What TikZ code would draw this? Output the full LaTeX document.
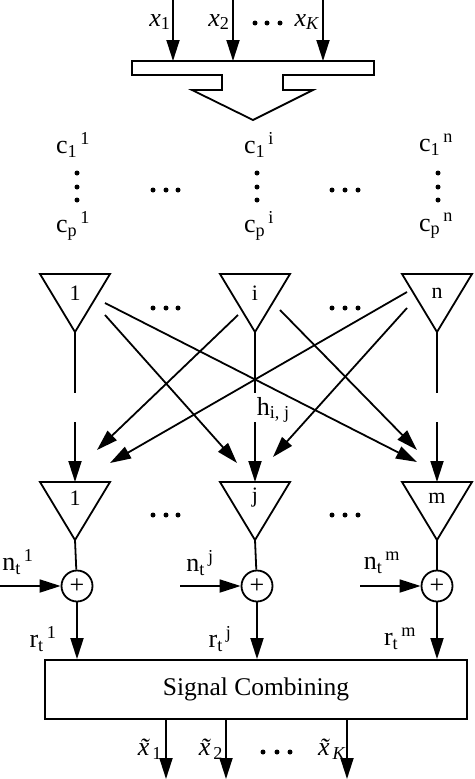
\documentclass[tikz,border=0pt]{standalone}
\usepackage{fontspec}
\setmainfont{Liberation Serif}
\usetikzlibrary{arrows.meta}
\newcommand\subsup[3]{#1\textsubscript{#2}\textsuperscript{\,#3}}
\newcommand\xt[1]{\textit{x^^^^0303}\kern-0.28em\textsubscript{#1}}

\begin{document}
\begin{tikzpicture}[x=1pt, y=-1pt, line width=1.8pt,
                    >={Triangle[length=21pt,width=13pt]},
                    lbl/.style={font=\fontsize{26}{30}\selectfont, inner sep=0pt},
                    amp lbl/.style={font=\fontsize{22}{26}\selectfont, inner sep=0pt},
                    sum node/.style={circle, draw, minimum size=31pt, inner sep=0pt,
                                     font=\fontsize{26}{30}\selectfont},
                    dot/.style={fill, circle, inner sep=0pt, minimum size=5pt}]
  \useasboundingbox (0,0) rectangle (474,779);

  % inputs and splitter bar
  \foreach \x/\n in {173/1, 233/2, 323/3}{
    \coordinate (in\n) at (\x,0);
    \coordinate (b\n) at (\x,61);
    \draw[->] (in\n) -- (b\n);
  }
  \node[lbl] (x1) at (160,22) {\textit{x}\textsubscript{1}};
  \node[lbl] (x2) at (219,22) {\textit{x}\textsubscript{2}};
  \node[lbl] (xK) at (307,22) {\textit{x}\textsubscript{\textit{K}}};
  \foreach \x in {255,267,280} \node[dot] at (\x,23) {};
  \draw (222,75) -- (132,75) -- (132,61) -- (374,61) -- (374,75) -- (283,75)
        -- (283,90) -- (313,90) -- (253,120) -- (192,90) -- (222,90) -- cycle;

  % codes
  \foreach \x/\n in {73/1, 259/i, 436/n}{
    \node[lbl] (c1\n) at (\x,145) {\subsup{c}{1}{\n}};
    \node[lbl] (cp\n) at (\x,226) {\subsup{c}{p}{\n}};
  }
  \foreach \x in {77,257,438}
    \foreach \y in {173,187,200} \node[dot] at (\x,\y) {};
  \foreach \y in {190,308,515}
    \foreach \x in {153,166,178,332,345,358} \node[dot] at (\x,\y) {};

  % transmit antennas
  \foreach \x/\n in {75/1, 255/i, 437/n}{
    \draw (\x-35,274) -- (\x+35,274) -- (\x,332) -- cycle;
    \node[amp lbl] (tx\n) at (\x,293) {\n};
    \coordinate (ta\n) at (\x,332);
    \coordinate (tb\n) at (\x,393);
    \coordinate (tc\n) at (\x,422);
  }
  % receive antennas
  \foreach \x/\n in {75/1, 255/j, 437/m}{
    \draw (\x-35,482) -- (\x+35,482) -- (\x,540) -- cycle;
    \node[amp lbl] (rx\n) at (\x,498) {\n};
    \coordinate (rt\n) at (\x,482);
    \coordinate (ra\n) at (\x,540);
  }
  \foreach \a/\b in {1/1, i/j, n/m}{
    \draw (ta\a) -- (tb\a);
    \draw[->] (tc\a) -- (rt\b);
  }

  % channels
  \coordinate (d1) at (105,303);  \coordinate (e1) at (417,462);
  \coordinate (d2) at (105,315);  \coordinate (e2) at (237,463);
  \coordinate (d3) at (238,315);  \coordinate (e3) at (97,450);
  \coordinate (d4) at (280,310);  \coordinate (e4) at (417,450);
  \coordinate (d5) at (407,292);  \coordinate (e5) at (110,463);
  \coordinate (d6) at (407,308);  \coordinate (e6) at (273,457);
  \foreach \k in {1,...,6} \draw[->] (d\k) -- (e\k);
  \node[lbl, anchor=west] (h) at (256,410) {h\textsubscript{i, j}};

  % noise and combining
  \node[sum node] (s1) at (77,586) {+};
  \node[sum node] (sj) at (257,586) {+};
  \node[sum node] (sm) at (437,586) {+};
  \coordinate (n1) at (0,586);
  \coordinate (nj) at (180,586);
  \coordinate (nm) at (360,586);
  \node[draw, minimum width=422pt, minimum height=59pt, inner sep=0pt,
        font=\fontsize{25.5}{30}\selectfont] (comb) at (256,689.5) {Signal Combining};
  \foreach \n/\l in {1/1, j/j, m/m}{
    \draw (ra\n) -- (s\n);
    \draw[->] (n\n) -- (s\n);
    \draw[->] (s\n) -- (s\n |- comb.north);
  }
  \node[lbl] (nt1) at (18,562) {\subsup{n}{t}{1}};
  \node[lbl] (ntj) at (200,563) {\subsup{n}{t}{j}};
  \node[lbl] (ntm) at (382,563) {\subsup{n}{t}{m}};
  \node[lbl] (rt1) at (43,639) {\subsup{r}{t}{1}};
  \node[lbl] (rtj) at (220,639) {\subsup{r}{t}{j}};
  \node[lbl] (rtm) at (400,639) {\subsup{r}{t}{m}};

  % outputs
  \foreach \x/\n in {166/1, 226/2, 347/3}{
    \coordinate (out\n) at (\x,779);
    \draw[->] (comb.south -| out\n) -- (out\n);
  }
  \node[lbl] (y1) at (150,749) {\xt{1}};
  \node[lbl] (y2) at (211,749) {\xt{2}};
  \node[lbl] (yK) at (332,749) {\xt{\textit{K}}};
  \foreach \x in {263,277,290} \node[dot] at (\x,752) {};
\end{tikzpicture}
\end{document}
